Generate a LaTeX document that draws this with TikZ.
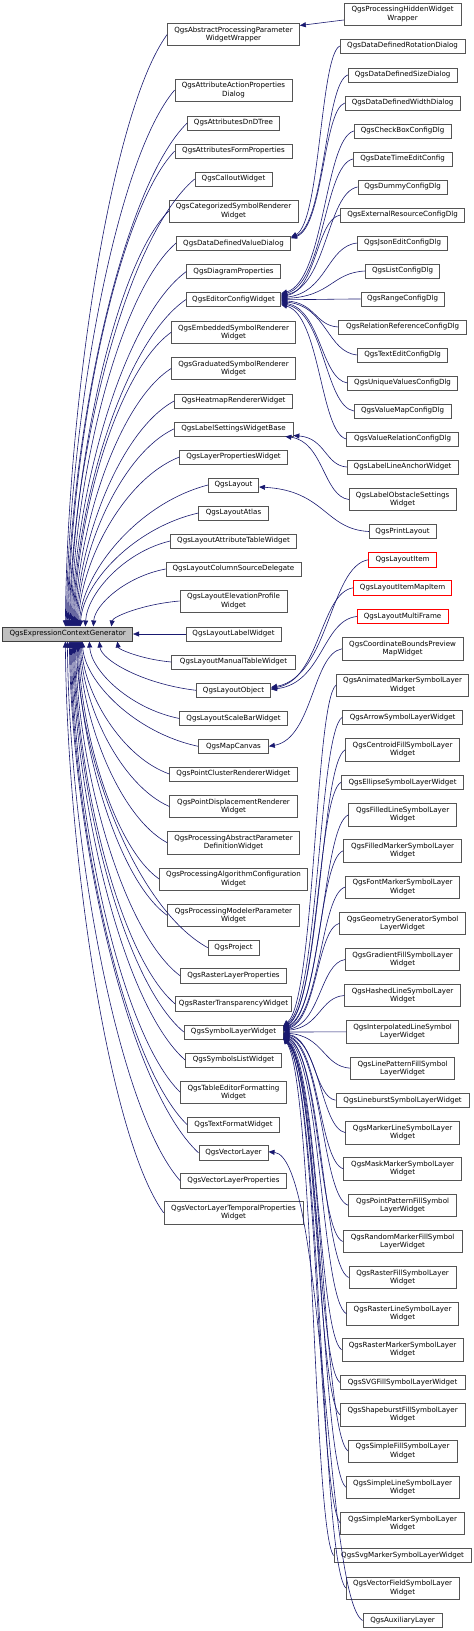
\documentclass[tikz,border=0pt]{standalone}
\usepackage{fontspec}
\setmainfont{DejaVu Sans}
\usetikzlibrary{arrows.meta,calc}
\definecolor{edgeblue}{HTML}{191970}
\definecolor{boxgray}{HTML}{555555}
\definecolor{egray}{HTML}{BFBFBF}
\definecolor{edark}{HTML}{404040}
\definecolor{boxred}{HTML}{FF0000}
\newcommand\nodefont{\fontsize{7.1}{8.3}\selectfont}
\tikzset{
 box/.style={draw=boxgray, fill=white, line width=0.7pt, inner sep=0pt, minimum height=14.3pt, align=center, font=\nodefont, text=black},
 box2/.style={box, minimum height=22.3pt},
 redbox/.style={box, draw=boxred},
 edge/.style={draw=edgeblue, line width=0.6pt, -{Triangle[length=6pt,width=5pt]}},
}
\newcommand\EdgeL[2]{\draw[edge] let \p1=(#1.west), \p2=(#2) in (\p1) .. controls ({\x1-0.55*(\x1-\x2)},{\y1+0.13*(\y2-\y1)}) and ({\x2+0.02*(\x1-\x2)},{\y1+0.62*(\y2-\y1)}) .. (\p2);}
\newcommand\EdgeR[3][0.08]{\draw[edge] let \p1=(#2.west), \p2=(#3) in (\p1) .. controls ({\x1-0.4*(\x1-\x2)},{\y1+0.05*(\y2-\y1)}) and ({\x2+0.6*(\x1-\x2)},{\y2-#1*(\y2-\y1)}) .. (\p2);}
\begin{document}
\begin{tikzpicture}[x=1pt,y=1pt]
\useasboundingbox (0,0) rectangle (474,-1631);
% base
\node[box, fill=egray, draw=edark, minimum width=130pt] (E) at (67.7,-634) {QgsExpressionContextGenerator};
% left column
\node[box2,minimum width=132pt] (apw) at (233.5,-34.5) {QgsAbstractProcessingParameter\\WidgetWrapper};
\node[box2,minimum width=117pt] (aapd) at (233.5,-90) {QgsAttributeActionProperties\\Dialog};
\node[box,minimum width=92pt] (adnd) at (233.5,-123) {QgsAttributesDnDTree};
\node[box,minimum width=117pt] (afp) at (233.5,-151) {QgsAttributesFormProperties};
\node[box,minimum width=77pt] (cw) at (233.5,-179) {QgsCalloutWidget};
\node[box2,minimum width=128.7pt] (csrw) at (233.5,-211) {QgsCategorizedSymbolRenderer\\Widget};
\node[box,minimum width=114.4pt] (ddvd) at (233.5,-243.2) {QgsDataDefinedValueDialog};
\node[box,minimum width=93.6pt] (dp) at (233.5,-271.5) {QgsDiagramProperties};
\node[box,minimum width=94.6pt] (ecw) at (233.5,-299.6) {QgsEditorConfigWidget};
\node[box2,minimum width=124pt] (esrw) at (233.5,-332.3) {QgsEmbeddedSymbolRenderer\\Widget};
\node[box2,minimum width=124pt] (gsrw) at (233.5,-368.5) {QgsGraduatedSymbolRenderer\\Widget};
\node[box,minimum width=118pt] (hrw) at (233.5,-401) {QgsHeatmapRendererWidget};
\node[box,minimum width=119pt] (lswb) at (233.5,-429) {QgsLabelSettingsWidgetBase};
\node[box,minimum width=107.6pt] (lpw) at (233.5,-457) {QgsLayerPropertiesWidget};
\node[box,minimum width=50.4pt] (lay) at (233.5,-485) {QgsLayout};
\node[box,minimum width=69.4pt] (lat) at (233.5,-513) {QgsLayoutAtlas};
\node[box,minimum width=126pt] (latw) at (233.5,-541) {QgsLayoutAttributeTableWidget};
\node[box,minimum width=135pt] (lcsd) at (233.5,-569) {QgsLayoutColumnSourceDelegate};
\node[box2,minimum width=107.3pt] (lepw) at (233.5,-601) {QgsLayoutElevationProfile\\Widget};
\node[box,minimum width=94.7pt] (llw) at (233.5,-634) {QgsLayoutLabelWidget};
\node[box,minimum width=123.7pt] (lmtw) at (233.5,-662) {QgsLayoutManualTableWidget};
\node[box,minimum width=74.4pt] (lo) at (233.5,-690.3) {QgsLayoutObject};
\node[box,minimum width=107.6pt] (lsbw) at (233.5,-718.5) {QgsLayoutScaleBarWidget};
\node[box,minimum width=70pt] (mc) at (233.5,-746.3) {QgsMapCanvas};
\node[box,minimum width=127.6pt] (pcrw) at (233.5,-774) {QgsPointClusterRendererWidget};
\node[box2,minimum width=127.6pt] (pdrw) at (233.5,-806.5) {QgsPointDisplacementRenderer\\Widget};
\node[box2,minimum width=132pt] (papdw) at (233.5,-842.7) {QgsProcessingAbstractParameter\\DefinitionWidget};
\node[box2,minimum width=148pt] (pacw) at (233.5,-879) {QgsProcessingAlgorithmConfiguration\\Widget};
\node[box2,minimum width=132pt] (pmpw) at (233.5,-915.3) {QgsProcessingModelerParameter\\Widget};
\node[box,minimum width=50.7pt] (proj) at (233.5,-947.7) {QgsProject};
\node[box,minimum width=106pt] (rlp) at (233.5,-975.8) {QgsRasterLayerProperties};
\node[box,minimum width=116.3pt] (rtw) at (233.5,-1003.8) {QgsRasterTransparencyWidget};
\node[box,minimum width=98.7pt] (slw) at (233.5,-1032) {QgsSymbolLayerWidget};
\node[box,minimum width=96pt] (sliw) at (233.5,-1060) {QgsSymbolsListWidget};
\node[box2,minimum width=106pt] (tefw) at (233.5,-1092.2) {QgsTableEditorFormatting\\Widget};
\node[box,minimum width=92pt] (tfw) at (233.5,-1124.7) {QgsTextFormatWidget};
\node[box,minimum width=69.3pt] (vl) at (233.5,-1152.8) {QgsVectorLayer};
\node[box,minimum width=106pt] (vlp) at (233.5,-1180.7) {QgsVectorLayerProperties};
\node[box2,minimum width=139pt] (vltpw) at (233.5,-1212.8) {QgsVectorLayerTemporalProperties\\Widget};
% right column
\node[box2,minimum width=117pt] (phww) at (402.6,-14) {QgsProcessingHiddenWidget\\Wrapper};
\node[box,minimum width=125pt] (ddrd) at (402.6,-46) {QgsDataDefinedRotationDialog};
\node[box,minimum width=109pt] (ddsd) at (402.6,-75) {QgsDataDefinedSizeDialog};
\node[box,minimum width=115pt] (ddwd) at (402.6,-103) {QgsDataDefinedWidthDialog};
\node[box,minimum width=97pt] (cbcd) at (402.6,-131) {QgsCheckBoxConfigDlg};
\node[box,minimum width=99pt] (dtec) at (402.6,-159) {QgsDateTimeEditConfig};
\node[box,minimum width=89.3pt] (dcd) at (402.6,-187) {QgsDummyConfigDlg};
\node[box,minimum width=124pt] (ercd) at (402.6,-215) {QgsExternalResourceConfigDlg};
\node[box,minimum width=89.6pt] (jecd) at (402.6,-243) {QgsJsonEditConfigDlg};
\node[box,minimum width=73.6pt] (lcd) at (402.6,-271) {QgsListConfigDlg};
\node[box,minimum width=83.3pt] (rcd) at (402.6,-299) {QgsRangeConfigDlg};
\node[box,minimum width=128pt] (rrcd) at (402.6,-327) {QgsRelationReferenceConfigDlg};
\node[box,minimum width=89.6pt] (tecd) at (402.6,-355) {QgsTextEditConfigDlg};
\node[box,minimum width=109.6pt] (uvcd) at (402.6,-383) {QgsUniqueValuesConfigDlg};
\node[box,minimum width=97pt] (vmcd) at (402.6,-411) {QgsValueMapConfigDlg};
\node[box,minimum width=112pt] (vrcd) at (402.6,-439) {QgsValueRelationConfigDlg};
\node[box,minimum width=111pt] (llaw) at (402.6,-467) {QgsLabelLineAnchorWidget};
\node[box2,minimum width=106.7pt] (losw) at (402.6,-499.5) {QgsLabelObstacleSettings\\Widget};
\node[box,minimum width=66.7pt] (pl) at (402.6,-531.5) {QgsPrintLayout};
\node[redbox,minimum width=67.6pt] (li) at (402.6,-559.7) {QgsLayoutItem};
\node[redbox,minimum width=98.3pt] (limi) at (402.6,-587.8) {QgsLayoutItemMapItem};
\node[redbox,minimum width=91pt] (lmf) at (402.6,-616.5) {QgsLayoutMultiFrame};
\node[box2,minimum width=120.6pt] (cbpmw) at (402.6,-648.8) {QgsCoordinateBoundsPreview\\MapWidget};
\node[box2,minimum width=132.3pt] (amslw) at (402.6,-685) {QgsAnimatedMarkerSymbolLayer\\Widget};
\node[box,minimum width=120pt] (aslw) at (402.6,-717.2) {QgsArrowSymbolLayerWidget};
\node[box2,minimum width=114.3pt] (cfslw) at (402.6,-749.8) {QgsCentroidFillSymbolLayer\\Widget};
\node[box,minimum width=122.3pt] (eslw) at (402.6,-782.2) {QgsEllipseSymbolLayerWidget};
\node[box2,minimum width=107.6pt] (flslw) at (402.6,-814.8) {QgsFilledLineSymbolLayer\\Widget};
\node[box2,minimum width=118.4pt] (fmslw) at (402.6,-850.8) {QgsFilledMarkerSymbolLayer\\Widget};
\node[box2,minimum width=114pt] (fontmslw) at (402.6,-887) {QgsFontMarkerSymbolLayer\\Widget};
\node[box2,minimum width=125.6pt] (ggslw) at (402.6,-923.3) {QgsGeometryGeneratorSymbol\\LayerWidget};
\node[box2,minimum width=114.3pt] (gfslw) at (402.6,-959.5) {QgsGradientFillSymbolLayer\\Widget};
\node[box2,minimum width=116pt] (hlslw) at (402.6,-995.5) {QgsHashedLineSymbolLayer\\Widget};
\node[box2,minimum width=112pt] (ilslw) at (402.6,-1031.8) {QgsInterpolatedLineSymbol\\LayerWidget};
\node[box2,minimum width=104pt] (lpfslw) at (402.6,-1068.2) {QgsLinePatternFillSymbol\\LayerWidget};
\node[box,minimum width=133.4pt] (lbslw) at (402.6,-1100.2) {QgsLineburstSymbolLayerWidget};
\node[box2,minimum width=113.6pt] (mlslw) at (402.6,-1132.7) {QgsMarkerLineSymbolLayer\\Widget};
\node[box2,minimum width=117.6pt] (mmslw) at (402.6,-1168.8) {QgsMaskMarkerSymbolLayer\\Widget};
\node[box2,minimum width=108.4pt] (ppfslw) at (402.6,-1205.2) {QgsPointPatternFillSymbol\\LayerWidget};
\node[box2,minimum width=119.3pt] (rmfslw) at (402.6,-1241.5) {QgsRandomMarkerFillSymbol\\LayerWidget};
\node[box2,minimum width=107.3pt] (rfslw) at (402.6,-1277.5) {QgsRasterFillSymbolLayer\\Widget};
\node[box2,minimum width=111.6pt] (rlslw) at (402.6,-1313.8) {QgsRasterLineSymbolLayer\\Widget};
\node[box2,minimum width=121.3pt] (rmslw) at (402.6,-1349.8) {QgsRasterMarkerSymbolLayer\\Widget};
\node[box,minimum width=124.7pt] (svgfslw) at (402.6,-1382.5) {QgsSVGFillSymbolLayerWidget};
\node[box2,minimum width=124.7pt] (sbfslw) at (402.6,-1414.8) {QgsShapeburstFillSymbolLayer\\Widget};
\node[box2,minimum width=108.7pt] (sfslw) at (402.6,-1451) {QgsSimpleFillSymbolLayer\\Widget};
\node[box2,minimum width=113pt] (slslw) at (402.6,-1487.2) {QgsSimpleLineSymbolLayer\\Widget};
\node[box2,minimum width=123.6pt] (smslw) at (402.6,-1523.2) {QgsSimpleMarkerSymbolLayer\\Widget};
\node[box,minimum width=137.3pt] (svgmslw) at (402.6,-1555.5) {QgsSvgMarkerSymbolLayerWidget};
\node[box2,minimum width=113pt] (vfslw) at (402.6,-1588) {QgsVectorFieldSymbolLayer\\Widget};
\node[box,minimum width=79.4pt] (al) at (402.6,-1620.5) {QgsAuxiliaryLayer};
% edges to base (top group)
\EdgeL{apw}{[xshift=63pt]E.north west}
\EdgeL{aapd}{[xshift=64pt]E.north west}
\EdgeL{adnd}{[xshift=65pt]E.north west}
\EdgeL{afp}{[xshift=66pt]E.north west}
\EdgeL{cw}{[xshift=67pt]E.north west}
\EdgeL{csrw}{[xshift=68pt]E.north west}
\EdgeL{ddvd}{[xshift=69pt]E.north west}
\EdgeL{dp}{[xshift=70pt]E.north west}
\EdgeL{ecw}{[xshift=71pt]E.north west}
\EdgeL{esrw}{[xshift=72pt]E.north west}
\EdgeL{gsrw}{[xshift=73pt]E.north west}
\EdgeL{hrw}{[xshift=74pt]E.north west}
\EdgeL{lswb}{[xshift=75pt]E.north west}
\EdgeL{lpw}{[xshift=76pt]E.north west}
\EdgeL{lay}{[xshift=77pt]E.north west}
\EdgeL{lat}{[xshift=78pt]E.north west}
\EdgeL{latw}{[xshift=83pt]E.north west}
\EdgeL{lcsd}{[xshift=91pt]E.north west}
\EdgeL{lepw}{[xshift=109pt]E.north west}
\draw[edge] (llw) -- (E);
\EdgeL{lmtw}{[xshift=115pt]E.south west}
% edges to base (bottom group)
\EdgeL{lo}{[xshift=97pt]E.south west}
\EdgeL{lsbw}{[xshift=87pt]E.south west}
\EdgeL{mc}{[xshift=80pt]E.south west}
\EdgeL{pcrw}{[xshift=79pt]E.south west}
\EdgeL{pdrw}{[xshift=78pt]E.south west}
\EdgeL{papdw}{[xshift=77pt]E.south west}
\EdgeL{pacw}{[xshift=76pt]E.south west}
\EdgeL{pmpw}{[xshift=75pt]E.south west}
\EdgeL{proj}{[xshift=74pt]E.south west}
\EdgeL{rlp}{[xshift=73pt]E.south west}
\EdgeL{rtw}{[xshift=72pt]E.south west}
\EdgeL{slw}{[xshift=71pt]E.south west}
\EdgeL{sliw}{[xshift=70pt]E.south west}
\EdgeL{tefw}{[xshift=69pt]E.south west}
\EdgeL{tfw}{[xshift=68pt]E.south west}
\EdgeL{vl}{[xshift=67pt]E.south west}
\EdgeL{vlp}{[xshift=65pt]E.south west}
\EdgeL{vltpw}{[xshift=63pt]E.south west}
% right-side edges
\draw[edge] ([yshift=-6pt]phww.west) -- ([yshift=9pt]apw.east);
\EdgeR{ddrd}{[yshift=6pt]ddvd.east}
\EdgeR{ddsd}{[yshift=5.5pt]ddvd.east}
\EdgeR{ddwd}{[yshift=5pt]ddvd.east}
\EdgeR{cbcd}{[yshift=6pt]ecw.east}
\EdgeR{dtec}{[yshift=5pt]ecw.east}
\EdgeR{dcd}{[yshift=4pt]ecw.east}
\EdgeR{ercd}{[yshift=3pt]ecw.east}
\EdgeR{jecd}{[yshift=2pt]ecw.east}
\EdgeR{lcd}{[yshift=1pt]ecw.east}
\EdgeR{rcd}{[yshift=0pt]ecw.east}
\EdgeR{rrcd}{[yshift=-1pt]ecw.east}
\EdgeR{tecd}{[yshift=-2pt]ecw.east}
\EdgeR{uvcd}{[yshift=-3pt]ecw.east}
\EdgeR{vmcd}{[yshift=-4pt]ecw.east}
\EdgeR{vrcd}{[yshift=-5pt]ecw.east}
\EdgeR{llaw}{[yshift=1pt]lswb.south east}
\EdgeR{losw}{[xshift=-8pt]lswb.south east}
\EdgeR{pl}{[yshift=-2pt]lay.east}
\EdgeR{li}{[yshift=3pt]lo.east}
\EdgeR{limi}{[yshift=2pt]lo.east}
\EdgeR{lmf}{[yshift=1pt]lo.east}
\EdgeR{cbpmw}{mc.east}
\EdgeR{amslw}{[yshift=6pt]slw.east}
\EdgeR{aslw}{[yshift=5.5pt]slw.east}
\EdgeR{cfslw}{[yshift=5pt]slw.east}
\EdgeR{eslw}{[yshift=4.5pt]slw.east}
\EdgeR{flslw}{[yshift=4pt]slw.east}
\EdgeR{fmslw}{[yshift=3.5pt]slw.east}
\EdgeR{fontmslw}{[yshift=3pt]slw.east}
\EdgeR{ggslw}{[yshift=2.5pt]slw.east}
\EdgeR{gfslw}{[yshift=2pt]slw.east}
\EdgeR{hlslw}{[yshift=1.5pt]slw.east}
\EdgeR{ilslw}{[yshift=0pt]slw.east}
\EdgeR{lpfslw}{[yshift=-1pt]slw.east}
\EdgeR{lbslw}{[yshift=-1.5pt]slw.east}
\EdgeR{mlslw}{[yshift=-2pt]slw.east}
\EdgeR{mmslw}{[yshift=-2.5pt]slw.east}
\EdgeR{ppfslw}{[yshift=-3pt]slw.east}
\EdgeR{rmfslw}{[yshift=-3.5pt]slw.east}
\EdgeR{rfslw}{[yshift=-4pt]slw.east}
\EdgeR{rlslw}{[yshift=-4.5pt]slw.east}
\EdgeR{rmslw}{[yshift=-5pt]slw.east}
\EdgeR{svgfslw}{[yshift=-5.5pt]slw.east}
\EdgeR{sbfslw}{[yshift=-6pt]slw.east}
\EdgeR{sfslw}{[yshift=-6pt]slw.east}
\EdgeR{slslw}{[yshift=-6pt]slw.east}
\EdgeR{smslw}{[yshift=-6pt]slw.east}
\EdgeR{svgmslw}{[yshift=-6pt]slw.east}
\EdgeR{vfslw}{[yshift=-6pt]slw.east}
\EdgeR[0.01]{al}{[yshift=1pt]vl.east}
\end{tikzpicture}
\end{document}
